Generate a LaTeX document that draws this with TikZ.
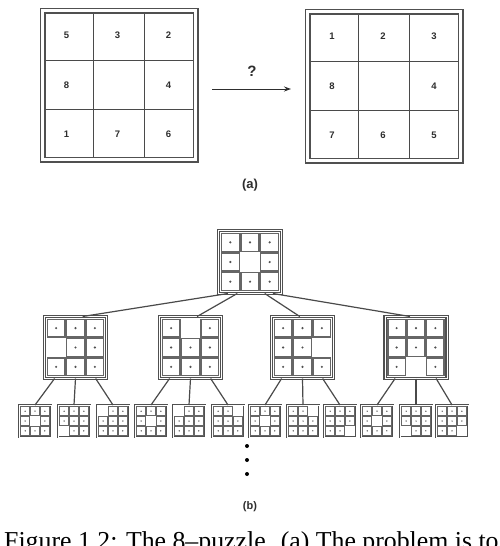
\documentclass[tikz,border=0pt]{standalone}
\usepackage{fontspec}
\setmainfont{Liberation Serif}
\setsansfont{Liberation Sans}
\usetikzlibrary{arrows.meta, positioning, calc}
\definecolor{gridgray}{HTML}{4A4A4A}
\definecolor{framegray}{HTML}{505050}
\definecolor{tilegray}{HTML}{666666}
\definecolor{dotgray}{HTML}{505050}
\definecolor{textgray}{HTML}{2E2E2E}

% one board of the search tree: name, centre, size, blank cell (1..9)
\newcommand{\treeboard}[4]{%
  \node[boardnode, minimum size=#3] (#1) at (#2) {};
  \pgfmathsetmacro{\bw}{0.6+0.016*#3}% frame line
  \pgfmathsetmacro{\bd}{0.012*#3}% gap in frame
  \pgfmathsetmacro{\bm}{\bw+0.5*\bd}%
  \pgfmathsetmacro{\bc}{(#3-2*\bm)/3}%
  \pgfmathsetmacro{\bt}{0.45+0.016*#3}% tile line
  \pgfmathsetmacro{\be}{0.6*\bt}%
  \foreach \k in {1,...,9}{%
    \ifnum\k=#4\relax\else
      \pgfmathtruncatemacro{\bcol}{mod(\k-1,3)}%
      \pgfmathtruncatemacro{\brow}{div(\k-1,3)}%
      \draw[tile, line width=\bt pt]
        ($(#1.north west)+({\bm+\bcol*\bc+\be},{\bm+\brow*\bc+\be})$)
        rectangle ++({\bc-2*\be},{\bc-2*\be});
      \fill[dotgray] ($(#1.north west)+({\bm+(\bcol+0.5)*\bc},{\bm+(\brow+0.5)*\bc})$)
        circle[radius={0.3+0.014*#3}];
    \fi
  }%
  \draw[draw=framegray, line width=\bw pt, double=white, double distance=\bd pt]
    (#1.north west) rectangle (#1.south east);
}

\begin{document}
\begin{tikzpicture}[
  x=1pt, y=-1pt,
  >={Stealth[length=7pt, width=5pt]},
  frame/.style={draw=framegray, line width=1.4pt, double=white, double distance=3.2pt},
  boardnode/.style={rectangle, inner sep=0pt, outer sep=0pt},
  gridline/.style={draw=gridgray, line width=1.3pt},
  digit/.style={font=\sffamily\bfseries\fontsize{9.5}{10}\selectfont, text=textgray},
  tile/.style={draw=tilegray},
  branch/.style={draw=gridgray, line width=1.2pt},
  partlabel/.style={font=\sffamily\bfseries, text=textgray},
]

% Background
\fill[white] (0,0) rectangle (500,546);
\useasboundingbox (0,0) rectangle (500,546);
\clip (0,0) rectangle (500,546);

% ========================================
% (a): start and goal
% ========================================
\node[boardnode, minimum width=153, minimum height=149] (L) at (119,85) {};
\node[boardnode, minimum width=153, minimum height=149] (R) at (384,86) {};

\foreach \b in {L,R} {
  \foreach \t in {1,2} {
    \draw[gridline] ($(\b.north west)!\t/3!(\b.north east)$) -- ($(\b.south west)!\t/3!(\b.south east)$);
    \draw[gridline] ($(\b.north west)!\t/3!(\b.south west)$) -- ($(\b.north east)!\t/3!(\b.south east)$);
  }
  \draw[frame] (\b.north west) rectangle (\b.south east);
}

% Tiles
\foreach \gc/\gr/\gd in {0/0/5, 1/0/3, 2/0/2, 0/1/8, 2/1/4, 0/2/1, 1/2/7, 2/2/6}
  \node[digit] (L-\gd) at ($(L.north west)+({(\gc+0.5)*51-1.5},{(\gr+0.5)*149/3})$) {\gd};
\foreach \gc/\gr/\gd in {0/0/1, 1/0/2, 2/0/3, 0/1/8, 2/1/4, 0/2/7, 1/2/6, 2/2/5}
  \node[digit] (R-\gd) at ($(R.north west)+({(\gc+0.5)*51-1},{(\gr+0.5)*149/3})$) {\gd};

% Arrow
\draw[->, draw=textgray, line width=1pt, shorten <=16.5pt, shorten >=16.5pt]
  ($(L.east)+(0,4)$) -- ($(R.west)+(0,3)$);
\node[partlabel, font=\sffamily\bfseries\fontsize{15}{16}\selectfont] (q) at (252,71) {?};

\node[partlabel, font=\sffamily\bfseries\fontsize{13}{14}\selectfont] (lab-a) at (250,185) {(a)};

% ========================================
% (b): search tree
% ========================================
\treeboard{r}{250,262}{63}{5}

\treeboard{m1}{75.5,347.5}{62}{4}
\treeboard{m2}{190.5,347.5}{62}{2}
\treeboard{m3}{302.5,347.5}{62}{6}
\treeboard{m4}{416,347.5}{62}{8}

\treeboard{s1}{35,421}{32}{5}
\treeboard{s2}{74,421}{32}{7}
\treeboard{s3}{113,421}{32}{1}
\treeboard{s4}{151,421}{32}{5}
\treeboard{s5}{189,421}{32}{1}
\treeboard{s6}{228,421}{32}{3}
\treeboard{s7}{265,421}{32}{5}
\treeboard{s8}{303,421}{32}{3}
\treeboard{s9}{340,421}{32}{9}
\treeboard{s10}{377,421}{32}{5}
\treeboard{s11}{416,421}{32}{7}
\treeboard{s12}{452,421}{32}{9}

% Branches
\draw[branch] (r.235) -- (m1.77);
\draw[branch] (r.248) -- (m2.78);
\draw[branch] (r.295) -- (m3.95);
\draw[branch] (r.306) -- (m4.101);

\draw[branch] (m1.236) -- (s1.north);
\draw[branch] (m1.south) -- (s2.north);
\draw[branch] (m1.303) -- (s3.north);
\draw[branch] (m2.236) -- (s4.north);
\draw[branch] (m2.south) -- (s5.north);
\draw[branch] (m2.303) -- (s6.north);
\draw[branch] (m3.236) -- (s7.north);
\draw[branch] (m3.south) -- (s8.north);
\draw[branch] (m3.303) -- (s9.north);
\draw[branch] (m4.236) -- (s10.north);
\draw[branch] (m4.south) -- (s11.north);
\draw[branch] (m4.303) -- (s12.north);

% Ellipsis
\foreach \y in {446,460,474}
  \fill[black] (247,\y) circle[radius=2];

\node[partlabel, font=\sffamily\bfseries\fontsize{11}{12}\selectfont] (lab-b) at (250,507) {(b)};

% Caption
\node[anchor=base west, inner sep=0pt, font=\fontsize{25.8}{30}\selectfont] (caption) at (4,549.5)
  {Figure 1.2: The 8--puzzle. (a) The problem is to};

\end{tikzpicture}
\end{document}
